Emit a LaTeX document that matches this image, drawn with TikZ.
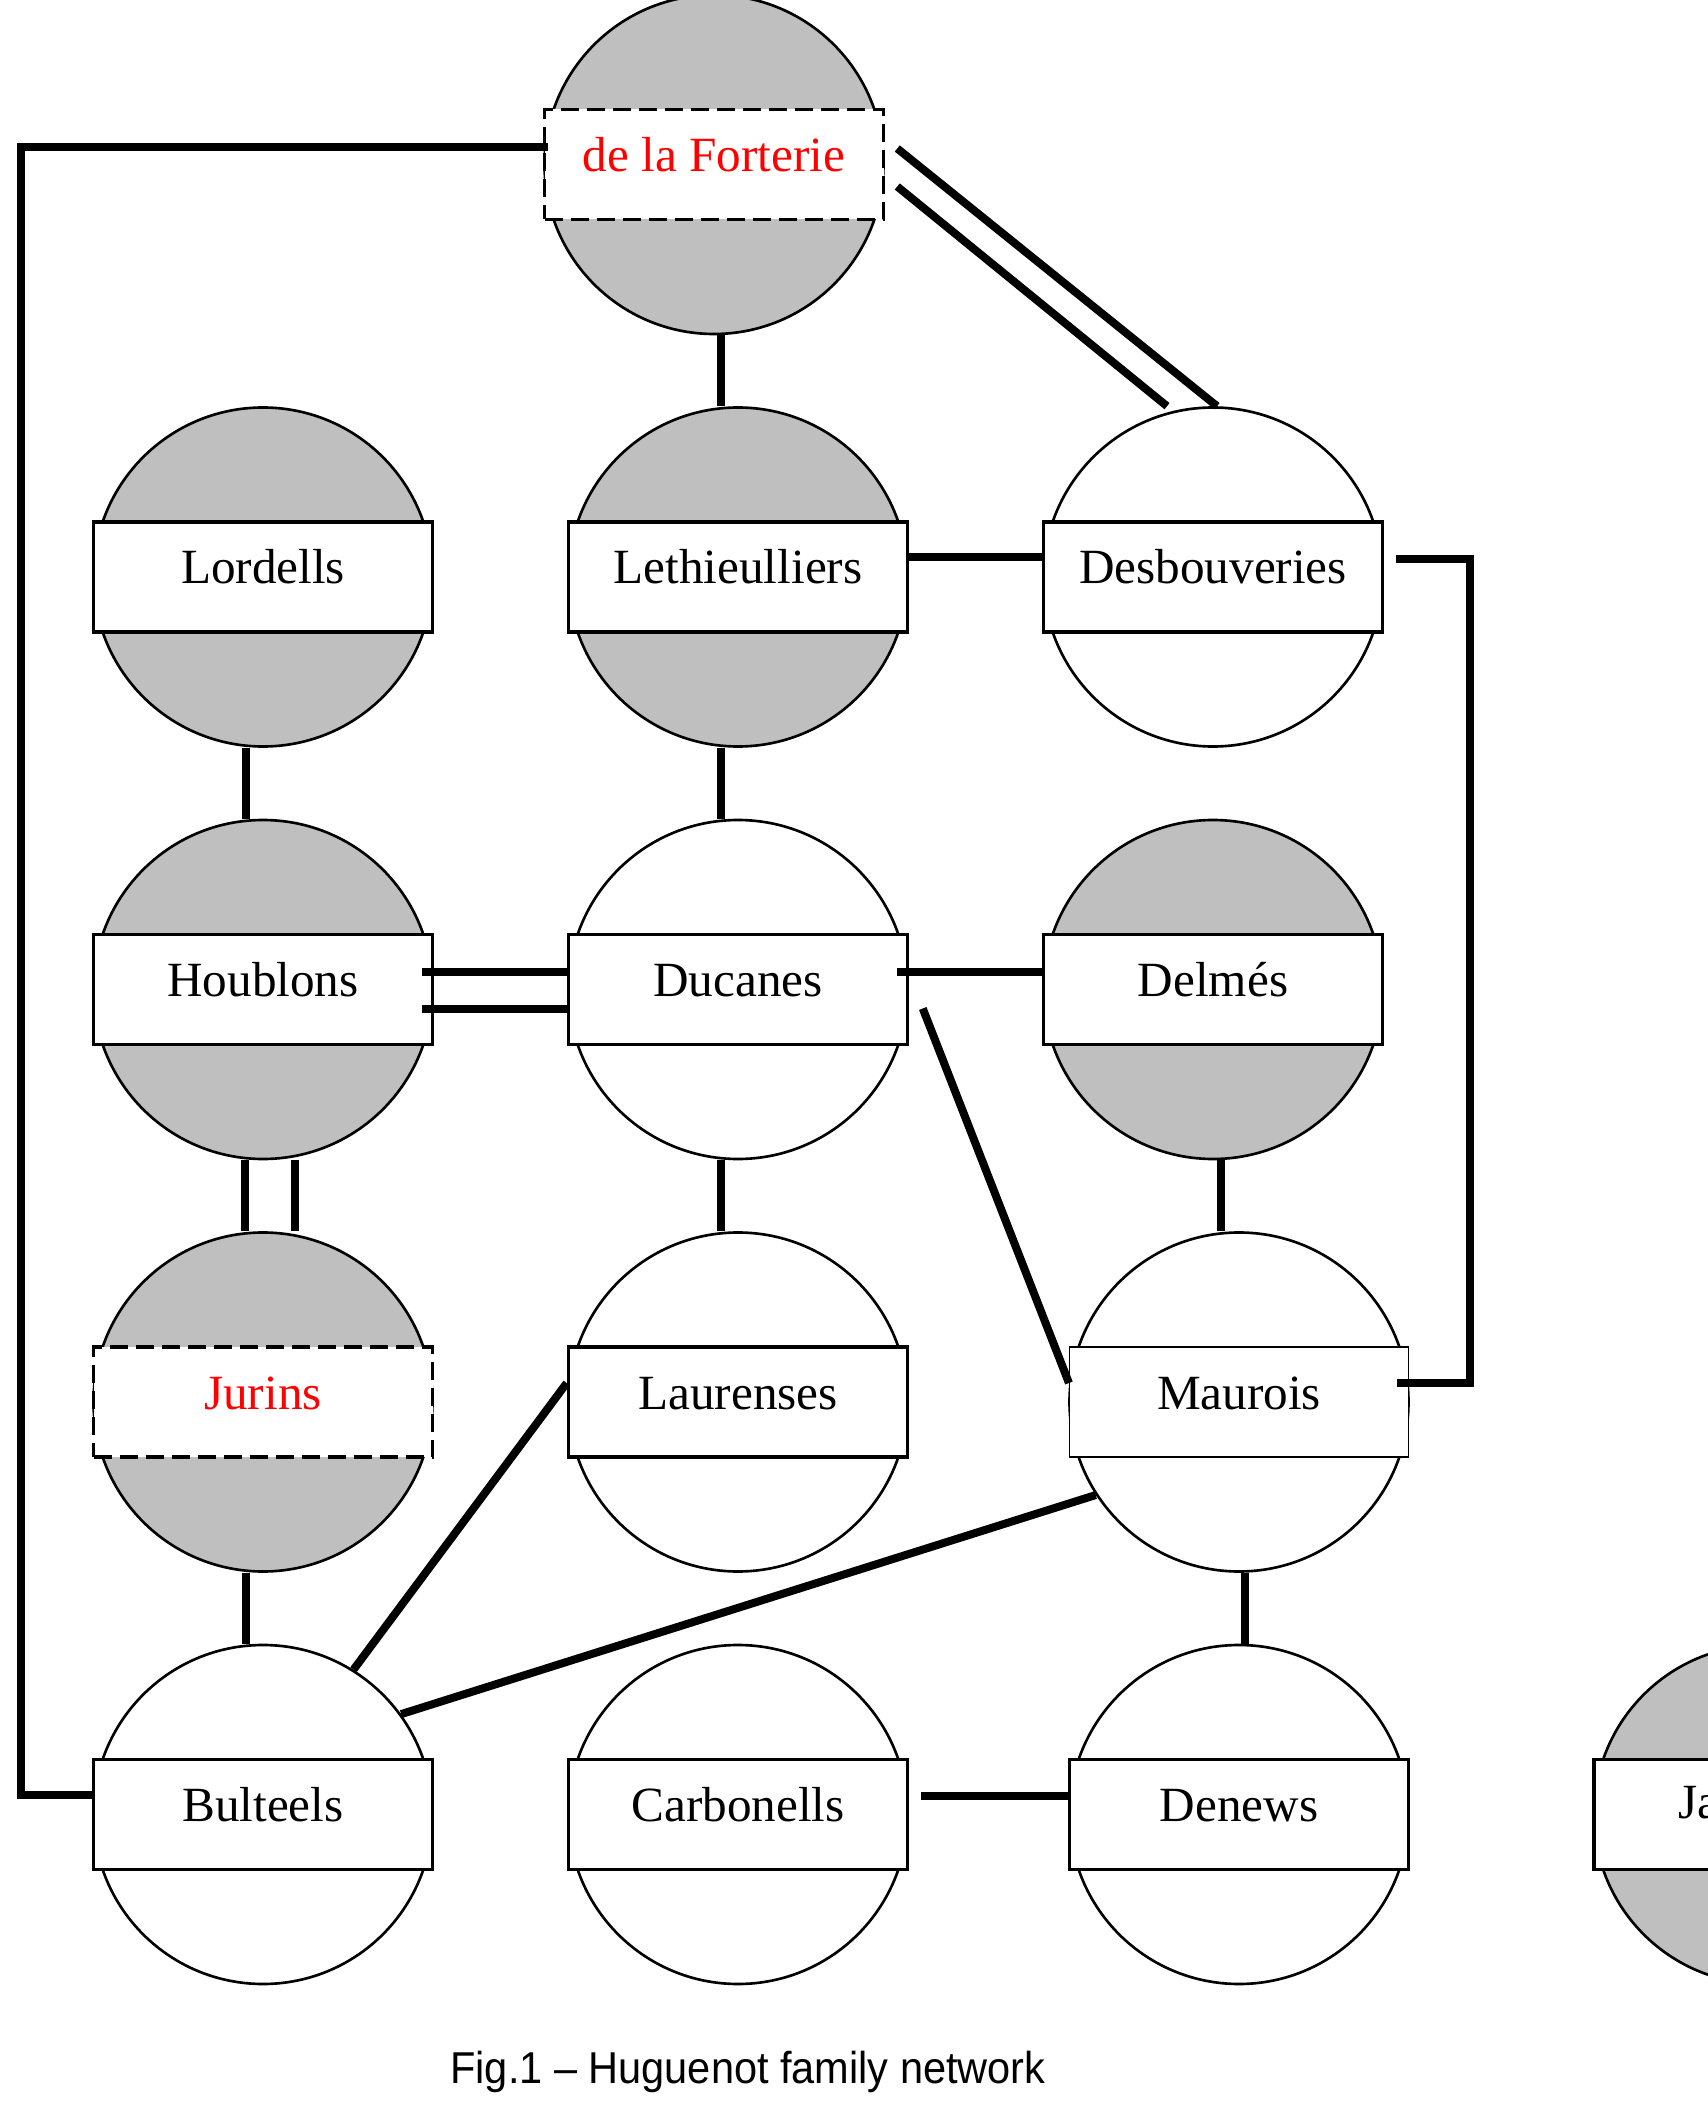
\documentclass[tikz,border=0pt]{standalone}
\usepackage{fontspec}
\setmainfont{Liberation Serif}
\newfontfamily\figcapfont{Liberation Sans}
\usepackage{xcolor}
\usetikzlibrary{positioning}
\definecolor{famgrey}{RGB}{191,191,191}
\newcommand{\namefont}{\fontsize{14}{16}\selectfont}

\begin{document}
\begin{tikzpicture}[x=0.1mm, y=-0.1mm, node distance=41.25mm and 47.5mm, on grid,
    fam/.style={circle, draw, line width=0.75pt, minimum size=33.9mm, inner sep=0pt},
    kin/.style={fam, fill=famgrey},
    wed/.style={fam, fill=white},
    namebox/.style={draw, fill=white, line width=1pt, minimum width=33.9mm,
        minimum height=11mm, inner sep=0pt, text height=3mm, text depth=1.6mm, font=\namefont},
    lost/.style={namebox, dash pattern=on 1.8mm off 0.8mm, text=red},
    link/.style={line width=0.8mm}]
    \fill[white] (0,0) rectangle (1708,2109);
    \useasboundingbox (0,0) rectangle (1708,2109);

    % family circles
    \node[kin] (lordellsc) at (263,577) {};
    \node[kin, right=of lordellsc] (lethieulc) {};
    \node[wed, right=of lethieulc] (desbouvc) {};
    \node[kin, above=of lethieulc, xshift=-2.4mm] (forteriec) {};
    \node[kin, below=of lordellsc] (houblonsc) {};
    \node[wed, below=of lethieulc] (ducanesc) {};
    \node[kin, below=of desbouvc] (delmesc) {};
    \node[kin, below=of houblonsc] (jurinsc) {};
    \node[wed, below=of ducanesc] (laurensesc) {};
    \node[wed, below=of delmesc, xshift=2.6mm] (mauroisc) {};
    \node[wed, below=of jurinsc] (bulteelsc) {};
    \node[wed, below=of laurensesc] (carbonellsc) {};
    \node[wed, below=of mauroisc] (denewsc) {};
    \node[kin, right=of denewsc, xshift=4.95mm] (jac) {};

    % name boxes
    \node[lost] (forterie) at (forteriec) {de la Forterie};
    \node[namebox] (lordells) at (lordellsc) {Lordells};
    \node[namebox] (lethieul) at (lethieulc) {Lethieulliers};
    \node[namebox] (desbouv) at (desbouvc) {Desbouveries};
    \node[namebox] (houblons) at (houblonsc) {Houblons};
    \node[namebox] (ducanes) at (ducanesc) {Ducanes};
    \node[namebox] (delmes) at (delmesc) {Delmés};
    \node[lost] (jurins) at (jurinsc) {Jurins};
    \node[namebox] (laurenses) at (laurensesc) {Laurenses};
    \node[namebox, line width=0.3pt] (maurois) at (mauroisc) {Maurois};
    \node[namebox] (bulteels) at (bulteelsc) {Bulteels};
    \node[namebox] (carbonells) at (carbonellsc) {Carbonells};
    \node[namebox] (denews) at (denewsc) {Denews};
    \node[namebox] (ja) at (jac) {};
    \node[anchor=base west, inner sep=0pt, font=\namefont] (jalabel) at (1678,1818) {Ja};

    \coordinate (westrail) at (21,1000);
    \coordinate (eastrail) at (1470,1000);

    \path[link]
        ([xshift=-1.7mm]lethieulc.north |- forteriec.south) edge ([xshift=-1.7mm]lethieulc.north)
        ([xshift=-1.7mm]lordellsc.south) edge ([xshift=-1.7mm]houblonsc.north)
        ([xshift=-1.7mm]lethieulc.south) edge ([xshift=-1.7mm]ducanesc.north)
        ([xshift=-1.8mm]houblonsc.south) edge ([xshift=-1.8mm]jurinsc.north)
        ([xshift=3.2mm]houblonsc.south) edge ([xshift=3.2mm]jurinsc.north)
        ([xshift=-1.7mm]ducanesc.south) edge ([xshift=-1.7mm]laurensesc.north)
        ([xshift=0.8mm]delmesc.south) edge ([xshift=0.8mm]delmesc.south |- mauroisc.north)
        ([xshift=-1.7mm]jurinsc.south) edge ([xshift=-1.7mm]bulteelsc.north)
        ([xshift=0.6mm]mauroisc.south) edge ([xshift=0.6mm]denewsc.north)
        ([yshift=2mm]lethieul.east) edge ([yshift=2mm]desbouv.west)
        ([xshift=-1.2mm,yshift=1.8mm]houblons.east) edge ([yshift=1.8mm]ducanes.west)
        ([xshift=-1.2mm,yshift=-1.9mm]houblons.east) edge ([yshift=-1.9mm]ducanes.west)
        ([xshift=-1.2mm,yshift=1.8mm]ducanes.east) edge ([yshift=1.8mm]delmes.west)
        ([xshift=1.2mm,yshift=1.9mm]carbonells.east) edge ([yshift=1.9mm]denews.west)
        ([xshift=1.2mm,yshift=1.6mm]forterie.east) edge ([xshift=0.4mm]desbouvc.north)
        ([xshift=1.2mm,yshift=-2.2mm]forterie.east) edge ([xshift=-4.6mm]desbouvc.north)
        ([xshift=1.35mm,yshift=-1.9mm]ducanes.east) edge ([yshift=1.9mm]maurois.west)
        ([yshift=1.9mm]laurenses.west) edge (bulteelsc.58)
        (mauroisc.213) edge (bulteelsc.36);

    \draw[link] ([xshift=0.5mm,yshift=1.7mm]forterie.west) -| (westrail) |- ([yshift=2mm]bulteels.west);
    \draw[link] ([xshift=1.2mm,yshift=1.8mm]desbouv.east) -| (eastrail) |- ([xshift=-1.2mm,yshift=1.9mm]maurois.east);

    \node[anchor=base, inner sep=0pt, font=\figcapfont\fontsize{12.7}{15}\selectfont] (caption)
        at (748,2083) {\scalebox{0.93}[1]{Fig.1 – Huguenot family network}};
\end{tikzpicture}
\end{document}
